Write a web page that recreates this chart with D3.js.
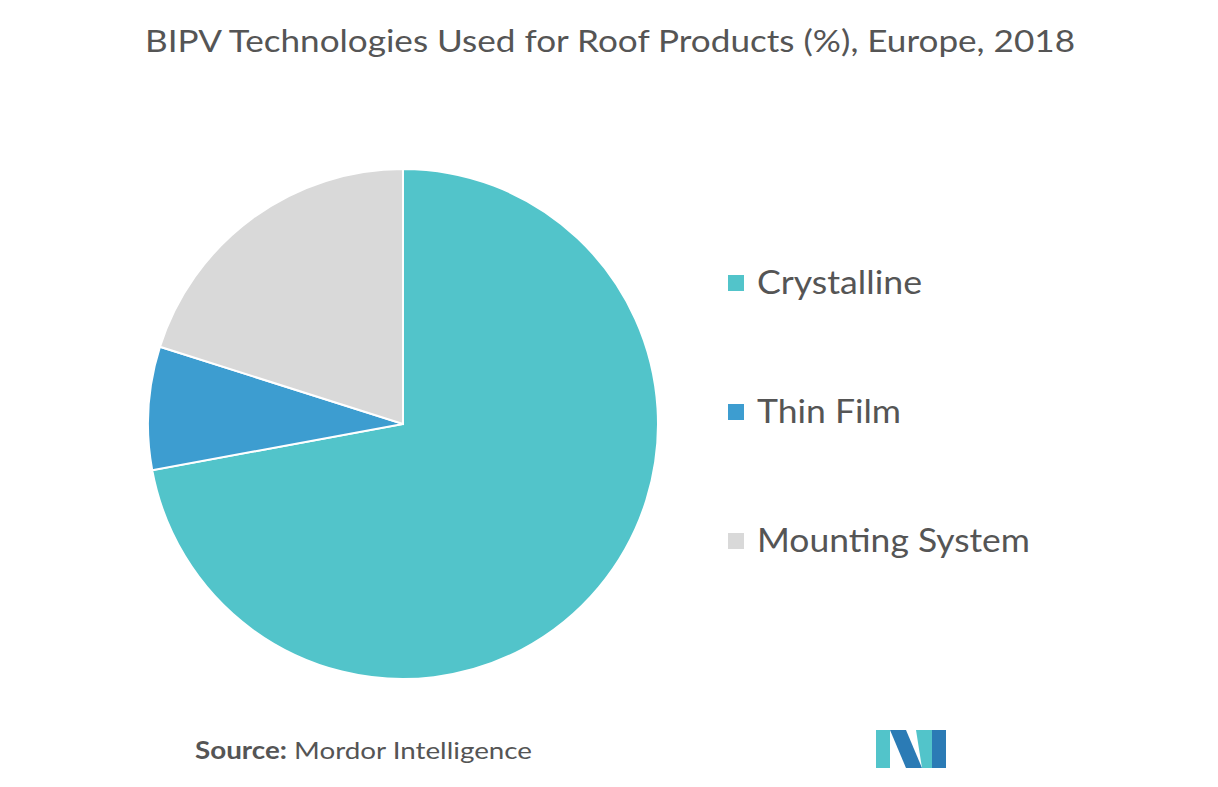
<!DOCTYPE html>
<html><head><meta charset="utf-8">
<script src="https://cdn.jsdelivr.net/npm/d3@7"></script>
<style>body{margin:0;background:#fff;font-family:Lato,sans-serif}</style>
</head><body>
<svg id="chart" width="1218" height="787"></svg>
<script>
var categories = ["Crystalline", "Thin Film", "Mounting System"];
var values = [72.1, 7.8, 20.1];
var colors = ["#52c4ca", "#3d9dd0", "#d9d9d9"];
var legendWidths = [165, 144, 273];

var svg = d3.select("#chart");

svg.append("text").attr("x", 145).attr("y", 52)
  .attr("font-size", 30).attr("fill", "#555")
  .attr("textLength", 930).attr("lengthAdjust", "spacingAndGlyphs")
  .text("BIPV Technologies Used for Roof Products (%), Europe, 2018");

var pie = d3.pie().sort(null).value(d => d);
var arc = d3.arc().innerRadius(0).outerRadius(255);
var g = svg.append("g").attr("transform", "translate(403,424)");
g.selectAll("path").data(pie(values)).enter().append("path")
  .attr("d", arc).attr("fill", (d, i) => colors[i])
  .attr("stroke", "#fff").attr("stroke-width", 2);

var legend = svg.selectAll(".leg").data(categories).enter().append("g")
  .attr("transform", (d, i) => "translate(728," + (283 + i * 129) + ")");
legend.append("rect").attr("x", 0).attr("y", -8).attr("width", 16).attr("height", 16)
  .attr("fill", (d, i) => colors[i]);
legend.append("text").attr("x", 29).attr("y", 11).attr("font-size", 33)
  .attr("fill", "#555")
  .attr("textLength", (d, i) => legendWidths[i]).attr("lengthAdjust", "spacingAndGlyphs")
  .text(d => d);

var src = svg.append("text").attr("x", 195).attr("y", 759).attr("font-size", 24).attr("fill", "#555")
  .attr("textLength", 337).attr("lengthAdjust", "spacingAndGlyphs");
src.append("tspan").attr("font-weight", "bold").text("Source:");
src.append("tspan").text(" Mordor Intelligence");

// logo
var logo = svg.append("g").attr("transform", "translate(876,730)");
logo.append("path").attr("d", "M0,0 L14,0 L14,38 L0,38 Z").attr("fill", "#52c4ca");
logo.append("path").attr("d", "M14,0 L30,0 L46,38 L30,38 Z").attr("fill", "#2b7bb5");
logo.append("path").attr("d", "M40,0 L56,0 L56,38 L46,38 Z").attr("fill", "#52c4ca");
logo.append("path").attr("d", "M56,0 L70,0 L70,38 L56,38 Z").attr("fill", "#2b7bb5");
</script>
</body></html>
